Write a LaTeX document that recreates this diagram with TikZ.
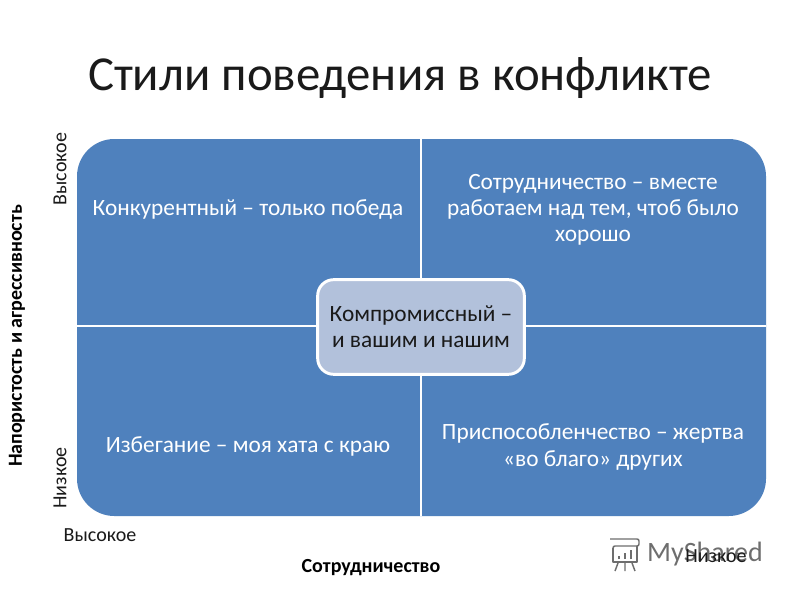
\documentclass[tikz,border=0pt]{standalone}
\usepackage{fontspec}
\setmainfont{Carlito}
\definecolor{quad}{HTML}{4F81BD}
\definecolor{centerfill}{HTML}{B2C1DB}
\definecolor{ink}{HTML}{1A1A1A}
\definecolor{mark}{HTML}{6E6E6E}
\tikzset{
  quadtext/.style={text=white,align=center,font=\fontsize{17.5pt}{19.7pt}\selectfont,inner sep=0pt},
  axis/.style={text=ink,font=\fontsize{15pt}{17pt}\selectfont,inner sep=0pt},
  axisbold/.style={text=black,font=\fontsize{15pt}{17pt}\selectfont\bfseries,inner sep=0pt},
  markline/.style={draw=mark,line width=1.1pt,line join=round}
}
\begin{document}
\begin{tikzpicture}[x=0.75pt,y=-0.75pt]
\useasboundingbox (0,0) rectangle (800,600);
\fill[white] (0,0) rectangle (800,600);
\node[inner sep=0pt,text=ink,font=\fontsize{36.6pt}{40pt}\selectfont] (title) at (400,78) {Стили поведения в конфликте};
% quadrants
\fill[quad,rounded corners=28pt] (77,139) rectangle (766,516);
\draw[white,line width=1.6pt] (421,139) -- (421,516) (77,326) -- (766,326);
\node[quadtext] (q1) at (248,209) {Конкурентный – только победа};
\node[quadtext] (q2) at (593,210) {Сотрудничество – вместе\\работаем над тем, чтоб было\\хорошо};
\node[quadtext] (q3) at (248,446) {Избегание – моя хата с краю};
\node[quadtext] (q4) at (593,447) {Приспособленчество – жертва\\«во благо» других};
% centre
\node[draw=white,line width=2.2pt,fill=centerfill,rounded corners=12pt,minimum width=155pt,minimum height=71pt,inner sep=0pt,align=center,text=ink,font=\fontsize{17.5pt}{19.7pt}\selectfont] (mid) at (421,327) {Компромиссный –\\и вашим и нашим};
% axis labels
\node[axis,rotate=90] (high1) at (60,169) {Высокое};
\node[axis,rotate=90] (low1) at (60,478) {Низкое};
\node[axisbold,rotate=90] (yaxis) at (17,336) {Напористость и агрессивность};
\node[axis] (high2) at (100,535) {Высокое};
\node[axisbold] (xaxis) at (371,568) {Сотрудничество};
% watermark
\draw[markline,fill=white,rounded corners=1.5pt] (610,539) -- (639,539) -- (639,546) -- (613,546) -- (613,548);
\draw[markline] (613,548) -- (613,562) -- (637,562) -- (637,546);
\draw[markline,line width=2.2pt] (619,559) -- (619,556) (625,559) -- (625,553) (631,559) -- (631,550);
\draw[markline] (618,563) -- (615,571) (625,563) -- (625,571) (632,563) -- (635,571);
\node[inner sep=0pt,text=mark,font=\fontsize{21pt}{22pt}\selectfont] (brand) at (705,554) {MyShared};
\node[axis] (low2) at (716,556) {Низкое};
\end{tikzpicture}
\end{document}
